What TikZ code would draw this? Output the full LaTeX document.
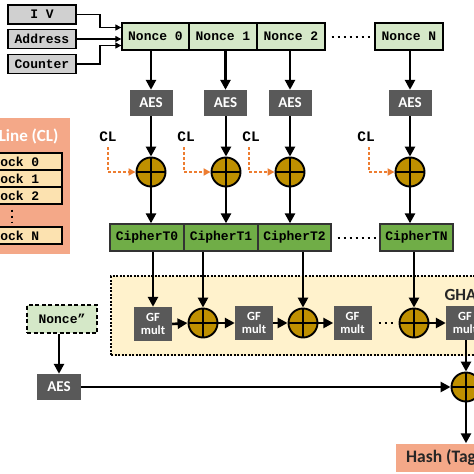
\documentclass[tikz,border=0pt]{standalone}
\usepackage{fontspec}
\setmainfont{Carlito}
\newfontfamily\monof{Liberation Mono}
\usetikzlibrary{arrows.meta,calc}
\definecolor{ingray}{RGB}{208,208,208}
\definecolor{noncegreen}{RGB}{213,232,200}
\definecolor{ciphgreen}{RGB}{112,173,71}
\definecolor{aesgray}{RGB}{89,89,89}
\definecolor{xorgold}{RGB}{191,144,0}
\definecolor{ghashfill}{RGB}{255,242,204}
\definecolor{salmon}{RGB}{244,168,136}
\definecolor{blockfill}{RGB}{252,226,176}
\definecolor{clorange}{RGB}{237,125,49}
\definecolor{darktext}{RGB}{38,38,38}
\tikzset{
  monotext/.style={font=\monof\bfseries\fontsize{13}{13}\selectfont},
  inbox/.style={draw, line width=1.3pt, fill=ingray, minimum width=68pt, minimum height=19pt, inner sep=0pt, monotext},
  noncebox/.style={draw, line width=1.3pt, fill=noncegreen, minimum width=68pt, minimum height=27pt, inner sep=0pt, monotext},
  ciphbox/.style={draw=black!80, line width=1.3pt, fill=ciphgreen, minimum width=74pt, minimum height=27pt, inner sep=0pt, monotext},
  aesbox/.style={fill=aesgray, text=white, minimum width=43pt, minimum height=26pt, inner sep=0pt, font=\bfseries\fontsize{15}{15}\selectfont},
  gfbox/.style={fill=aesgray, text=white, minimum width=38pt, minimum height=34pt, inner sep=0pt, align=center, font=\bfseries\fontsize{12.5}{13}\selectfont},
  xorc/.style={circle, draw, line width=1.9pt, fill=xorgold, minimum size=29pt, inner sep=0pt,
    path picture={\draw[line width=1.6pt] (path picture bounding box.north) -- (path picture bounding box.south) (path picture bounding box.west) -- (path picture bounding box.east);}},
  arr/.style={line width=2.6pt, -{Triangle[length=10pt,width=10pt]}},
  thinarr/.style={line width=1.1pt, -{Triangle[length=6pt,width=6pt]}},
  clarr/.style={clorange, line width=1.8pt, dash pattern=on 3pt off 2pt, -{Triangle[length=7pt,width=7pt]}},
  cllabel/.style={font=\monof\bfseries\fontsize{14.5}{14.5}\selectfont},
  blockbox/.style={draw, line width=1.3pt, fill=blockfill, minimum width=100pt, minimum height=17pt, inner sep=0pt, monotext},
  dotline/.style={line width=2pt, dash pattern=on 2pt off 4pt},
}
\begin{document}
\begin{tikzpicture}[x=1pt,y=-1pt]
\useasboundingbox (0,0) rectangle (474,474);
% cache line
\fill[salmon] (-40,118) rectangle (70,254);
\node[anchor=east, text=white, font=\bfseries\fontsize{17}{17}\selectfont] (cltitle) at (62,136) {Cache Line (CL)};
\node[blockbox] (blk0) at (12,161.5) {Block 0};
\node[blockbox] (blk1) at (12,178.5) {Block 1};
\node[blockbox] (blk2) at (12,195.5) {Block 2};
\node[blockbox] (blkN) at (12,235.5) {Block N};
\draw[dotline] ($(blk2.south)+(0,5)$) -- ($(blkN.north)+(0,-3)$);
% inputs
\node[inbox] (iv) at (42,14.5) {I V};
\node[inbox] (addr) at (42,39) {Address};
\node[inbox] (ctr) at (42,64) {Counter};
% nonces
\node[noncebox, minimum width=67pt] (n0) at (155.5,36.5) {Nonce 0};
\node[noncebox] (n1) at (223,36.5) {Nonce 1};
\node[noncebox] (n2) at (291,36.5) {Nonce 2};
\node[noncebox] (nN) at (409,36.5) {Nonce N};
\draw[dotline] ($(n2.east)+(6,0)$) -- ($(nN.west)+(-3,0)$);
\coordinate (ivbend) at (100,14.5);
\coordinate (ctrbend) at (100,64);
\draw[thinarr] (iv.east) -- (ivbend) |- ($(n0.west)+(0,-9)$);
\draw[thinarr] (addr.east) -- (addr.east -| n0.west);
\draw[thinarr] (ctr.east) -- (ctrbend) |- ($(n0.west)+(0,9)$);
% AES
\node[aesbox] (a0) at (151,103) {AES};
\node[aesbox] (a1) at (225.5,103) {AES};
\node[aesbox] (a2) at (290,103) {AES};
\node[aesbox] (aN) at (410,103) {AES};
\foreach \n/\a in {n0/a0,n1/a1,n2/a2,nN/aN} \draw[arr] (\a |- \n.south) -- (\a.north);
% XORs
\node[xorc] (x0) at (151,172) {};
\node[xorc] (x1) at (226,172) {};
\node[xorc] (x2) at (290,172) {};
\node[xorc] (xN) at (410,172) {};
\foreach \a/\x in {a0/x0,a1/x1,a2/x2,aN/xN} \draw[arr] (\x |- \a.south) -- (\x.north);
% CL labels
\node[cllabel] (cl0) at (108,137) {CL};
\node[cllabel] (cl1) at (186,137) {CL};
\node[cllabel] (cl2) at (251,137) {CL};
\node[cllabel] (clN) at (366,137) {CL};
\coordinate (d0) at (108,172);
\coordinate (d1) at (184,172);
\coordinate (d2) at (249,172);
\coordinate (dN) at (369,172);
\foreach \c/\d/\x in {cl0/d0/x0,cl1/d1/x1,cl2/d2/x2,clN/dN/xN}
  \draw[clarr] ($(\d |- \c.south)+(0,2)$) -- (\d) -- (\x.west);
% ciphers
\node[ciphbox] (c0) at (147,237.5) {CipherT0};
\node[ciphbox] (c1) at (221,237.5) {CipherT1};
\node[ciphbox, minimum width=73pt] (c2) at (294.5,237.5) {CipherT2};
\node[ciphbox, minimum width=73pt] (cN) at (416.5,237.5) {CipherTN};
\draw[dotline] ($(c2.east)+(6,0)$) -- ($(cN.west)+(-3,0)$);
\foreach \x/\c in {x0/c0,x1/c1,x2/c2,xN/cN} \draw[arr] (\x.south) -- (\x |- \c.north);
% GHASH
\draw[ghashfill, fill=ghashfill] (111,276) rectangle (490,355);
\draw[line width=1.5pt, dash pattern=on 2pt off 1.5pt] (111,355) -- (111,276) -- (490,276);
\draw[line width=1.5pt, dash pattern=on 2pt off 1.5pt] (111,355) -- (490,355);
\node[anchor=west, text=darktext, font=\bfseries\fontsize{17}{17}\selectfont] (ghl) at (441,295) {GHASH};
\node[gfbox] (g1) at (153,324) {GF\\mult};
\node[gfbox] (g2) at (254,323) {GF\\mult};
\node[gfbox] (g3) at (352.5,323) {GF\\mult};
\node[gfbox] (g4) at (465,323) {GF\\mult};
\node[xorc] (y1) at (203,323) {};
\node[xorc] (y2) at (303,323) {};
\node[xorc] (yN) at (414,323) {};
\draw[arr] (g1 |- c0.south) -- (g1.north);
\draw[arr] (y1 |- c1.south) -- (y1.north);
\draw[arr] (y2 |- c2.south) -- (y2.north);
\draw[arr] (yN |- cN.south) -- (yN.north);
\draw[arr] (g1.east) -- (y1.west);
\draw[arr] (y1.east) -- (g2.west);
\draw[arr] (g2.east) -- (y2.west);
\draw[arr] (y2.east) -- (g3.west);
\draw[dotline] ($(g3.east)+(7,0)$) -- ($(yN.west)+(-4,0)$);
\draw[arr] (yN.east) -- (g4.west);
% final
\node[xorc] (xf) at (466,387) {};
\draw[arr] (xf |- g4.south) -- (xf.north);
\node[draw, line width=1.5pt, dash pattern=on 4pt off 2.5pt, fill=noncegreen, minimum width=70pt, minimum height=28pt, inner sep=0pt, monotext] (np) at (62,319) {Nonce”};
\node[aesbox, minimum width=44pt] (af) at (59,387) {AES};
\draw[arr] (af |- np.south) -- (af.north);
\draw[arr] (af.east) -- (xf.west);
\node[anchor=west, fill=salmon, minimum height=28pt, inner xsep=10pt, inner ysep=0pt, text=darktext, font=\bfseries\fontsize{17.5}{17.5}\selectfont] (hb) at (396,457.5) {Hash (Tag)};
\draw[arr] (xf.south) -- (xf |- hb.north);
\end{tikzpicture}
\end{document}
